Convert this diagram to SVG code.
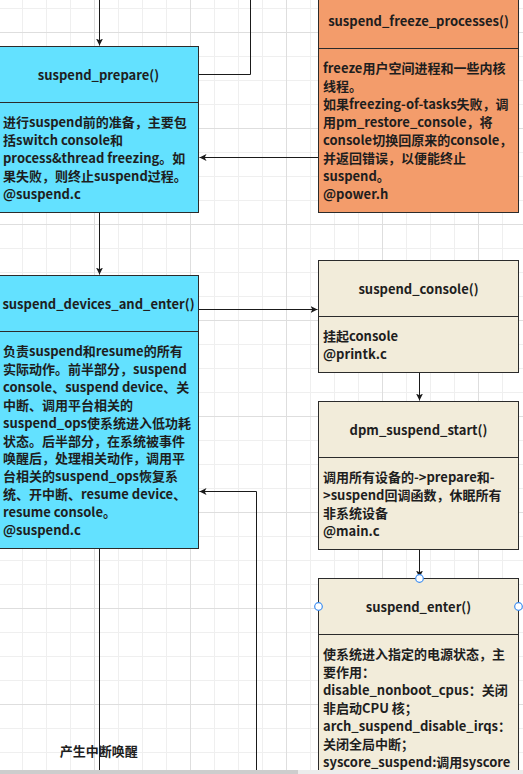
<svg xmlns="http://www.w3.org/2000/svg" width="523" height="774" viewBox="0 0 523 774">
<style>
.box{stroke:#2b2b2b;stroke-width:1}
.cyan{fill:#63E1FF}
.orange{fill:#F39C6B}
.beige{fill:#F2ECDA}
.div{stroke:#2b2b2b;stroke-width:1;fill:none}
.t{font-family:"Noto Sans CJK SC","Noto Sans",sans-serif;font-weight:bold;font-size:13px;fill:#1e1e1e}
.title{text-anchor:middle}
.edge{stroke:#1a1a1a;stroke-width:1;fill:none}
.handle{fill:#ffffff;stroke:#3b8cf0;stroke-width:1.2}
</style>
<defs>
<pattern id="grid" patternUnits="userSpaceOnUse" x="-2" y="32" width="96" height="96">
<path d="M24.5,0V96M48.5,0V96M72.5,0V96M0,24.5H96M0,48.5H96M0,72.5H96" stroke="#efefef" stroke-width="1" fill="none"/>
<path d="M0.5,0V96M0,0.5H96" stroke="#dedede" stroke-width="1" fill="none"/>
</pattern>
<marker id="arr" markerUnits="userSpaceOnUse" markerWidth="9" markerHeight="9" refX="7" refY="3.5" orient="auto">
<path d="M0,0L7,3.5L0,7L1.8,3.5Z" fill="#1a1a1a"/>
</marker>
</defs>
<rect x="0" y="0" width="523" height="774" fill="#ffffff"/>
<rect x="0" y="0" width="523" height="774" fill="url(#grid)"/>

<g id="connectors">
<path class="edge" d="M99.5,0V45.5" marker-end="url(#arr)"/>
<path class="edge" d="M198.5,74.5H250.5V0"/>
<path class="edge" d="M318.5,157.5H199.5" marker-end="url(#arr)"/>
<path class="edge" d="M99.5,212.5V274.5" marker-end="url(#arr)"/>
<path class="edge" d="M198.5,309.5H317.5" marker-end="url(#arr)"/>
<path class="edge" d="M419.5,372.5V400.5" marker-end="url(#arr)"/>
<path class="edge" d="M419.5,549.5V577.5" marker-end="url(#arr)"/>
<path class="edge" d="M99.5,548.5V774"/>
<path class="edge" d="M256.5,774V491.5H199.5" marker-end="url(#arr)"/>
<text class="t title" x="98.7" y="756">产生中断唤醒</text>
</g>

<g id="suspend_prepare">
<rect class="box cyan" x="-2.5" y="46.5" width="201" height="166"/>
<path class="div" d="M-2.5,102.5H198.5"/>
<text class="t title" x="98.5" y="79.8">suspend_prepare()</text>
<text class="t" x="3">
<tspan x="3" y="127.3">进行suspend前的准备，主要包</tspan>
<tspan x="3" y="145.2">括switch console和</tspan>
<tspan x="3" y="163.1">process&amp;thread freezing。如</tspan>
<tspan x="3" y="181">果失败，则终止suspend过程。</tspan>
<tspan x="3" y="198.9">@suspend.c</tspan>
</text>
</g>

<g id="suspend_freeze_processes">
<rect class="box orange" x="318.5" y="-7.5" width="200" height="220"/>
<path class="div" d="M318.5,48.5H518.5"/>
<text class="t title" x="418.5" y="25.8">suspend_freeze_processes()</text>
<text class="t">
<tspan x="323" y="73.3">freeze用户空间进程和一些内核</tspan>
<tspan x="323" y="91.2">线程。</tspan>
<tspan x="323" y="109.1">如果freezing-of-tasks失败，调</tspan>
<tspan x="323" y="127">用pm_restore_console，将</tspan>
<tspan x="323" y="144.9">console切换回原来的console，</tspan>
<tspan x="323" y="162.8">并返回错误，以便能终止</tspan>
<tspan x="323" y="180.7">suspend。</tspan>
<tspan x="323" y="198.6">@power.h</tspan>
</text>
</g>

<g id="suspend_devices_and_enter">
<rect class="box cyan" x="-2.5" y="275.5" width="201" height="273"/>
<path class="div" d="M-2.5,331.5H198.5"/>
<text class="t title" x="98.5" y="309">suspend_devices_and_enter()</text>
<text class="t">
<tspan x="3" y="356">负责suspend和resume的所有</tspan>
<tspan x="3" y="373.9">实际动作。前半部分，suspend</tspan>
<tspan x="3" y="391.8">console、suspend device、关</tspan>
<tspan x="3" y="409.7">中断、调用平台相关的</tspan>
<tspan x="3" y="427.6">suspend_ops使系统进入低功耗</tspan>
<tspan x="3" y="445.5">状态。后半部分，在系统被事件</tspan>
<tspan x="3" y="463.4">唤醒后，处理相关动作，调用平</tspan>
<tspan x="3" y="481.3">台相关的suspend_ops恢复系</tspan>
<tspan x="3" y="499.2">统、开中断、resume device、</tspan>
<tspan x="3" y="517.1">resume console。</tspan>
<tspan x="3" y="535">@suspend.c</tspan>
</text>
</g>

<g id="suspend_console">
<rect class="box beige" x="318.5" y="260.5" width="200" height="112"/>
<path class="div" d="M318.5,316.5H518.5"/>
<text class="t title" x="418.5" y="294">suspend_console()</text>
<text class="t">
<tspan x="323" y="341.3">挂起console</tspan>
<tspan x="323" y="359.2">@printk.c</tspan>
</text>
</g>

<g id="dpm_suspend_start">
<rect class="box beige" x="318.5" y="401.5" width="200" height="148"/>
<path class="div" d="M318.5,457.5H518.5"/>
<text class="t title" x="418.5" y="435">dpm_suspend_start()</text>
<text class="t">
<tspan x="323" y="482.3">调用所有设备的-&gt;prepare和-</tspan>
<tspan x="323" y="500.2">&gt;suspend回调函数，休眠所有</tspan>
<tspan x="323" y="518.1">非系统设备</tspan>
<tspan x="323" y="536">@main.c</tspan>
</text>
</g>

<g id="suspend_enter">
<rect class="box beige" x="318.5" y="578.5" width="200" height="230"/>
<path class="div" d="M318.5,634.5H518.5"/>
<text class="t title" x="418.5" y="612">suspend_enter()</text>
<text class="t">
<tspan x="323" y="659.3">使系统进入指定的电源状态，主</tspan>
<tspan x="323" y="677.2">要作用：</tspan>
<tspan x="323" y="695.1">disable_nonboot_cpus：关闭</tspan>
<tspan x="323" y="713">非启动CPU 核；</tspan>
<tspan x="323" y="730.9">arch_suspend_disable_irqs：</tspan>
<tspan x="323" y="748.8">关闭全局中断；</tspan>
<tspan x="323" y="766.7">syscore_suspend:调用syscore</tspan>
</text>
<circle class="handle" cx="419.5" cy="578.5" r="3.8"/>
<circle class="handle" cx="318.5" cy="606.5" r="3.8"/>
<circle class="handle" cx="518.5" cy="606.5" r="3.8"/>
</g>

<rect x="0" y="770" width="523" height="4" fill="#ececec"/>
<rect x="0" y="770" width="298" height="4" fill="#cdcdcd"/>
</svg>
